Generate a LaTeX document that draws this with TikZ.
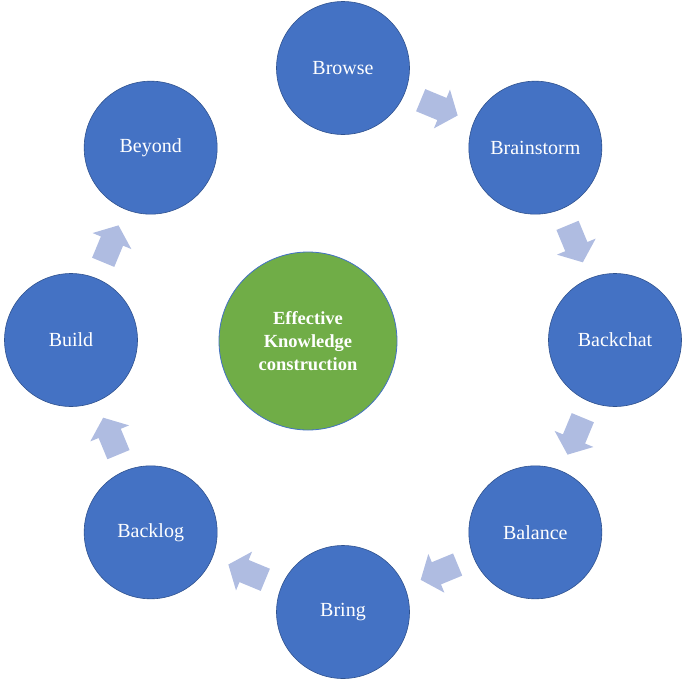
\documentclass[tikz,border=0pt]{standalone}
\usepackage{fontspec}
\setmainfont{Liberation Serif}
\usetikzlibrary{calc}
\definecolor{nodeblue}{RGB}{68,114,196}
\definecolor{edgeblue}{RGB}{47,82,143}
\definecolor{centergreen}{RGB}{112,173,71}
\definecolor{arrowblue}{RGB}{175,188,225}
\begin{document}
\begin{tikzpicture}[x=1pt,y=1pt,
  stage/.style={circle, fill=nodeblue, draw=edgeblue, line width=0.6pt, minimum size=133pt, inner sep=0pt, text=white, font=\fontsize{20}{24}\selectfont},
  hub/.style={circle, fill=centergreen, draw=nodeblue, line width=0.8pt, minimum size=178pt, inner sep=0pt, text=white, font=\bfseries\fontsize{18.5}{23}\selectfont, align=center},
  blockarrow/.style={fill=arrowblue}]
\useasboundingbox (0,-686) rectangle (685,0);
\coordinate (O) at (343,-340);
\foreach \t [count=\i from 0] in {Browse,Brainstorm,Backchat,Balance,Bring,Backlog,Build,Beyond}
  \node[stage] (s\i) at ($(O)+({90-45*\i}:272)$) {\t};
\node[hub] (hub) at (308,-341) {Effective\\Knowledge\\construction};
\foreach \i/\j in {0/1,1/2,2/3,3/4,4/5,5/6,6/7}
  \path[blockarrow, shift={($(s\i)!0.5!(s\j)$)}, rotate={-22.5-45*\i}]
    (-20,-12) -- (3,-12) -- (3,-21) -- (20,0) -- (3,21) -- (3,12) -- (-20,12) -- cycle;
\end{tikzpicture}
\end{document}
